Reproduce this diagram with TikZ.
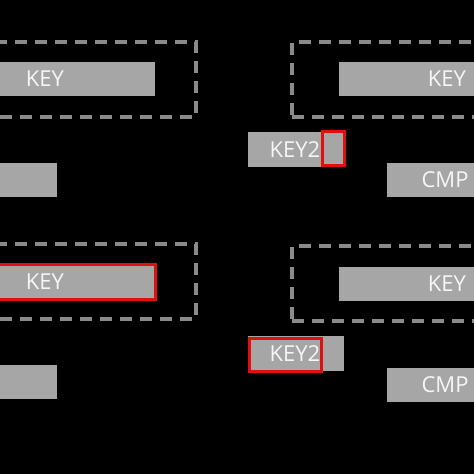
\documentclass[tikz,border=0pt]{standalone}
\usepackage{fontspec}
\setmainfont{Open Sans}
\definecolor{bargray}{HTML}{A6A6A6}
\definecolor{dashgray}{HTML}{8A8A8A}
\definecolor{hired}{HTML}{E01010}
\definecolor{txt}{HTML}{F6F6F6}
\tikzset{
  bar/.style={fill=bargray, draw=none, inner sep=0pt, outer sep=0pt},
  redbox/.style={draw=hired, line width=3pt, inner sep=0pt, outer sep=0pt},
  grpbox/.style={draw=dashgray, line width=3.5pt, dash pattern=on 12pt off 8pt, inner sep=0pt, outer sep=0pt},
  lbl/.style={text=txt, font=\fontsize{22}{22}\selectfont, inner sep=0pt}
}
\begin{document}
\begin{tikzpicture}[x=1pt,y=-1pt]
\fill[black] (0,0) rectangle (474,474);
\useasboundingbox (0,0) rectangle (474,474);
\clip (0,0) rectangle (474,474);
% top-left
\node[grpbox, minimum width=216pt, minimum height=75pt] (tlgrp) at (88,79.5) {};
\node[bar, minimum width=175pt, minimum height=34pt] (tlkey) at (67.5,79) {};
\node[lbl] (tlkeyl) at (45,79) {KEY};
\node[bar, minimum width=77pt, minimum height=34pt] (tlsmall) at (18.5,180) {};
% top-right
\node[grpbox, minimum width=202pt, minimum height=75pt] (trgrp) at (393,79.5) {};
\node[bar, minimum width=155pt, minimum height=34pt] (trkey) at (416.5,79) {};
\node[lbl] (trkeyl) at (447,79) {KEY};
\node[bar, minimum width=96pt, minimum height=35pt] (trkey2) at (296,149.5) {};
\node[lbl] (trkey2l) at (295,150) {KEY2};
\node[redbox, minimum width=22pt, minimum height=34pt] (trred) at (333.5,148.5) {};
\node[bar, minimum width=107pt, minimum height=34pt] (trcmp) at (440.5,180) {};
\node[lbl] (trcmpl) at (445,180) {CMP};
% bottom-left
\node[grpbox, minimum width=216pt, minimum height=75pt] (blgrp) at (88,281.5) {};
\node[bar, minimum width=175.5pt, minimum height=35pt] (blkey) at (67.75,282) {};
\node[redbox, minimum width=175.5pt, minimum height=35pt] (blred) at (67.75,282) {};
\node[lbl] (blkeyl) at (45,282) {KEY};
\node[bar, minimum width=77pt, minimum height=34pt] (blsmall) at (18.5,382) {};
% bottom-right
\node[grpbox, minimum width=202pt, minimum height=75pt] (brgrp) at (393,283.5) {};
\node[bar, minimum width=155pt, minimum height=34pt] (brkey) at (416.5,284) {};
\node[lbl] (brkeyl) at (447,284) {KEY};
\node[bar, minimum width=96pt, minimum height=35pt] (brkey2) at (296,353.5) {};
\node[redbox, minimum width=72pt, minimum height=33pt] (brred) at (285.5,355) {};
\node[lbl] (brkey2l) at (295,354) {KEY2};
\node[bar, minimum width=107pt, minimum height=34pt] (brcmp) at (440.5,385) {};
\node[lbl] (brcmpl) at (445,385) {CMP};
\end{tikzpicture}
\end{document}
